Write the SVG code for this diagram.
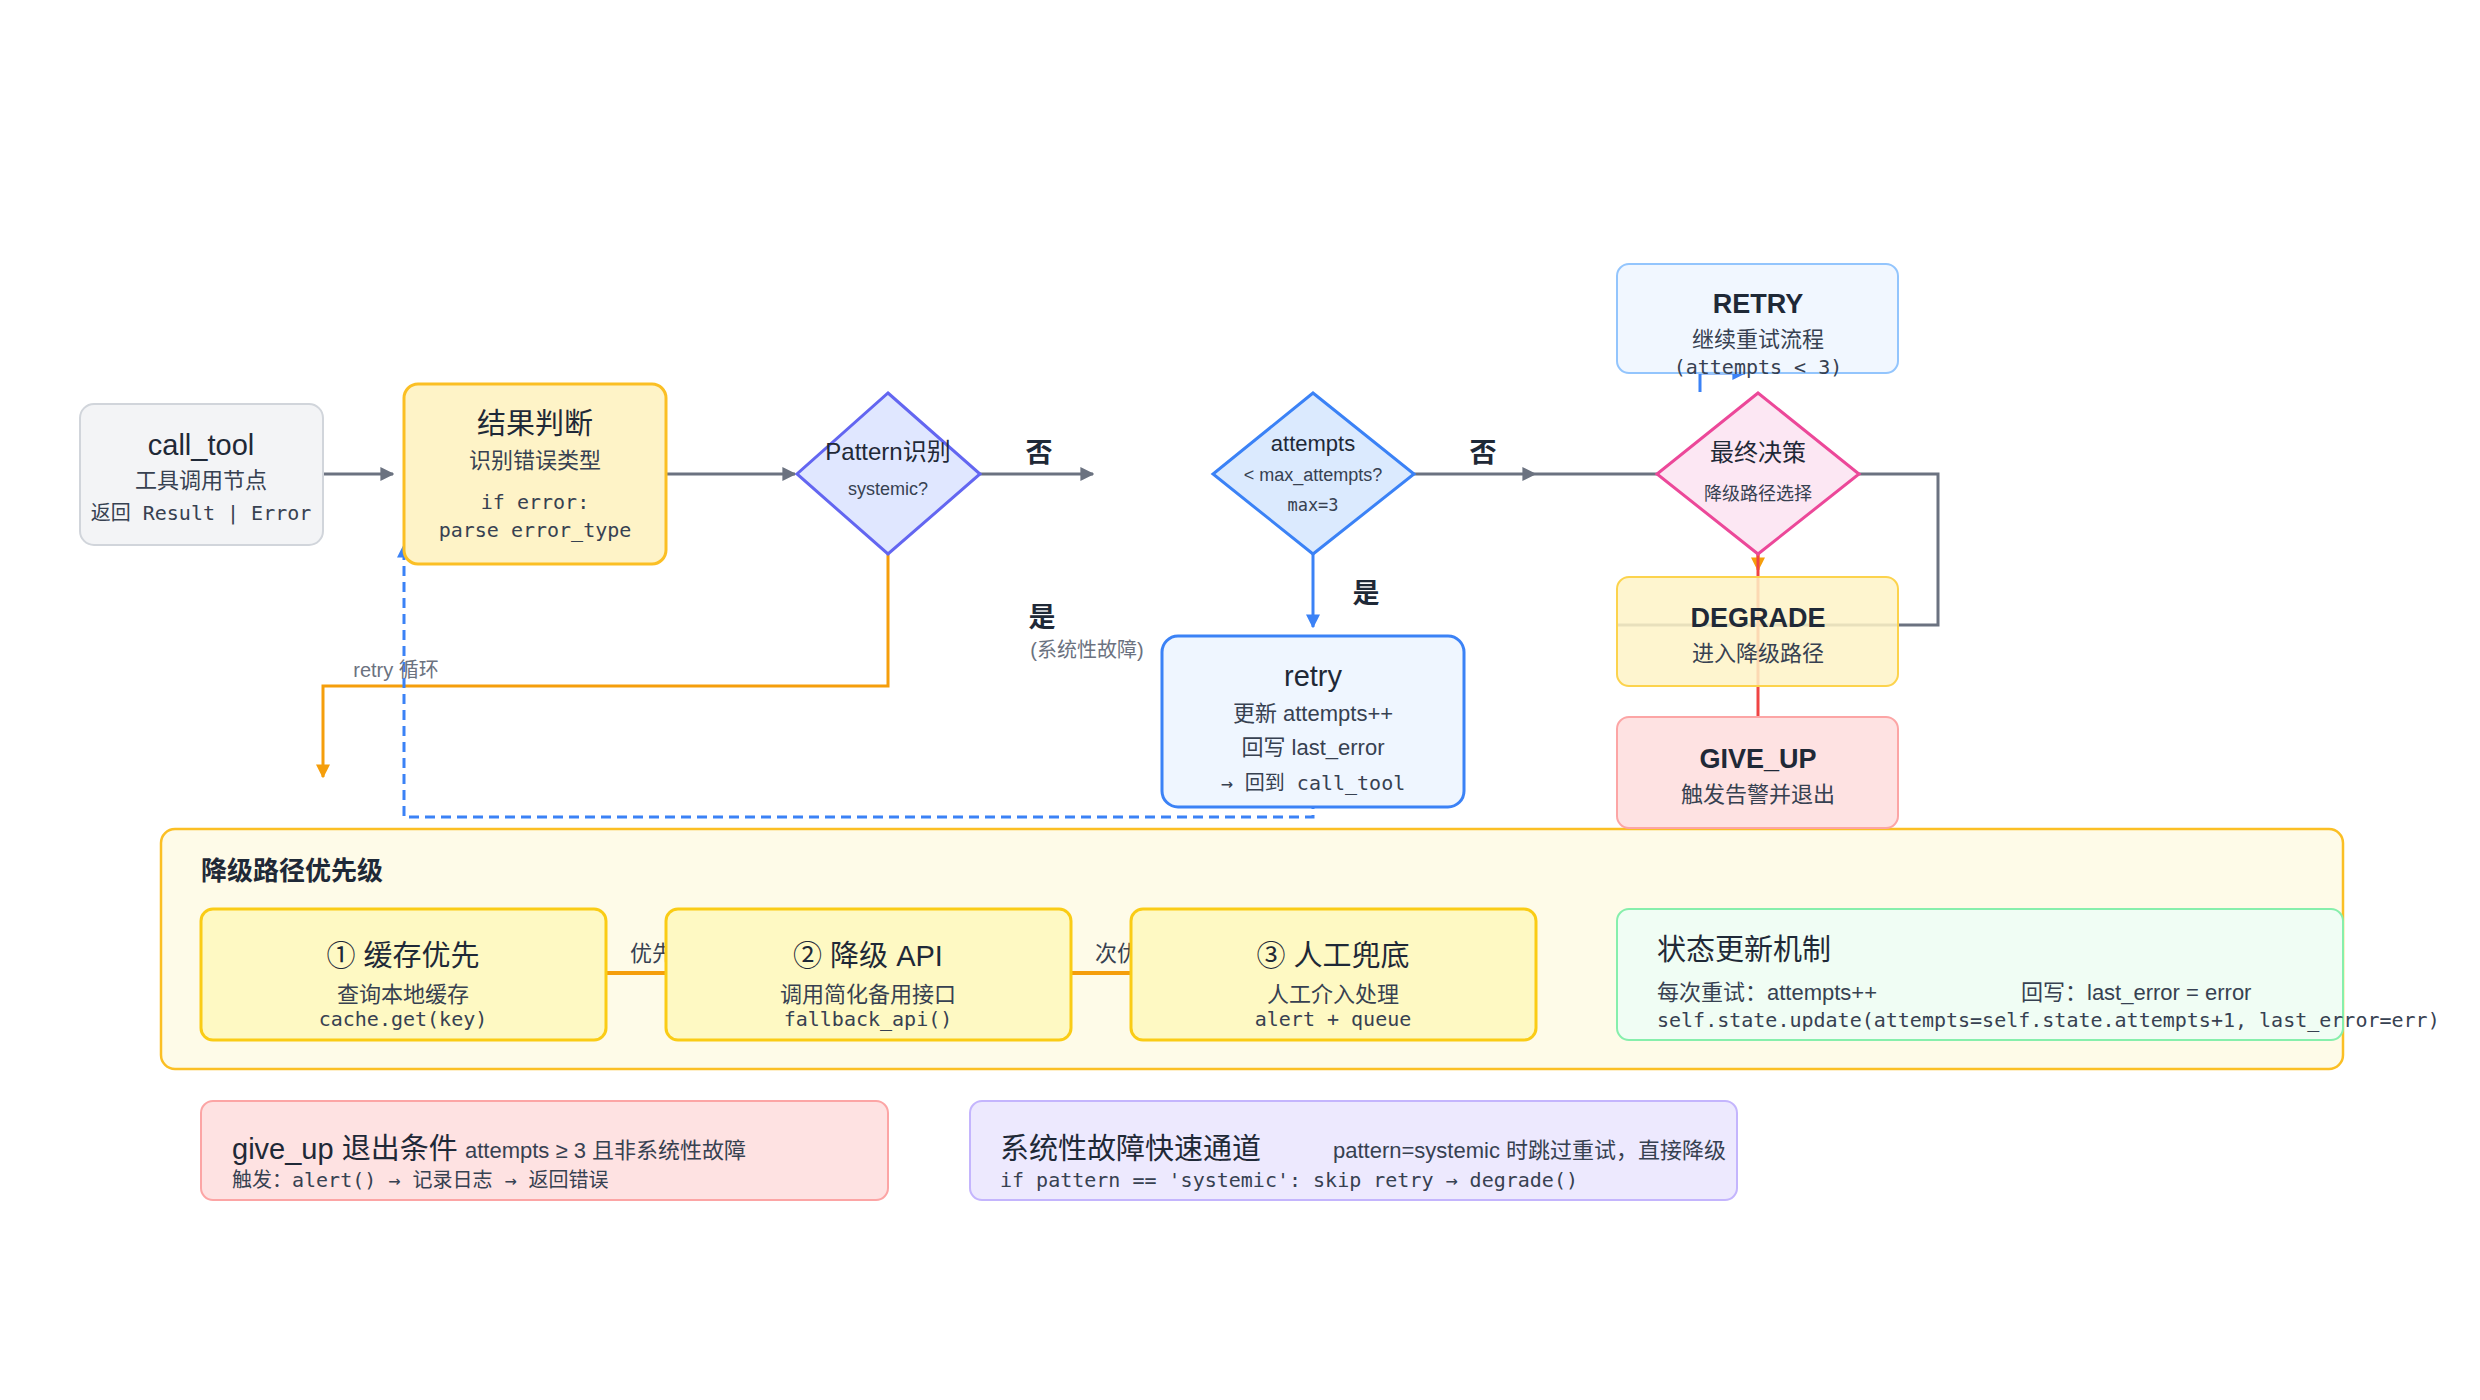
<svg xmlns="http://www.w3.org/2000/svg" width="2480" height="1400" viewBox="0 0 2480 1400">
<style>
text{font-family:"Liberation Sans","Noto Sans CJK SC",sans-serif;fill:#1f2937;text-anchor:middle}
.t{font-size:29px}
.s{font-size:22px;fill:#374151}
.m{font-family:"DejaVu Sans Mono","Liberation Mono","Noto Sans CJK SC",monospace;font-size:20px;fill:#374151}
.b{font-weight:bold;font-size:27px}
.sm{font-size:18px;fill:#374151}
.g{fill:#6b7280;font-size:20px}
.l{text-anchor:start}
.ln{fill:none;stroke-width:3}
</style>
<defs>
<marker id="ag" markerWidth="10" markerHeight="10" refX="9" refY="5" orient="auto" markerUnits="userSpaceOnUse" viewBox="0 0 10 10"><path d="M0,0L10,5L0,10z" fill="#6b7280"/></marker>
<marker id="ab" viewBox="0 0 10 10" refX="9" refY="5" markerWidth="14" markerHeight="14" orient="auto" markerUnits="userSpaceOnUse"><path d="M0,0L10,5L0,10z" fill="#3b82f6"/></marker>
<marker id="ao" viewBox="0 0 10 10" refX="9" refY="5" markerWidth="14" markerHeight="14" orient="auto" markerUnits="userSpaceOnUse"><path d="M0,0L10,5L0,10z" fill="#f59e0b"/></marker>
<marker id="agg" viewBox="0 0 10 10" refX="9" refY="5" markerWidth="14" markerHeight="14" orient="auto" markerUnits="userSpaceOnUse"><path d="M0,0L10,5L0,10z" fill="#6b7280"/></marker>
</defs>
<rect width="2480" height="1400" fill="#fff"/>

<g id="container">
<rect x="161" y="829" width="2182" height="240" rx="14" fill="#fefbe8" stroke="#fbbf24" stroke-width="2.5"/>
<text class="b l" x="201" y="880" style="font-size:26px">降级路径优先级</text>
</g>

<g id="connectors">
<path class="ln" d="M323 474H393" stroke="#6b7280" marker-end="url(#agg)"/>
<path class="ln" d="M666 474H795" stroke="#6b7280" marker-end="url(#agg)"/>
<path class="ln" d="M980 474H1093" stroke="#6b7280" marker-end="url(#agg)"/>
<path class="ln" d="M888 554V686H323V777" stroke="#f59e0b" marker-end="url(#ao)"/>
<path class="ln" d="M1313 783V817H404V545" stroke="#3b82f6" stroke-dasharray="10 6" marker-end="url(#ab)"/>
<path class="ln" d="M1313 554V627" stroke="#3b82f6" marker-end="url(#ab)"/>
<path class="ln" d="M1414 474H1535" stroke="#6b7280" marker-end="url(#agg)"/>
<path class="ln" d="M1535 474H1657" stroke="#6b7280"/>
<path class="ln" d="M1700 392V373H1745" stroke="#3b82f6" marker-end="url(#ab)"/>
<path class="ln" d="M1859 474H1938V625H1617" stroke="#6b7280"/>
<path class="ln" d="M1758 554V570" stroke="#f59e0b" marker-end="url(#ao)"/>
<path class="ln" d="M1758 554V717" stroke="#ef4444"/>
<path d="M606 973H666M1071 973H1131" stroke="#f59e0b" stroke-width="4"/>
<text class="s" x="652" y="961" style="fill:#374151">优先</text>
<text class="s" x="1117" y="961" style="fill:#374151">次优</text>
<text class="b" x="1039" y="462">否</text>
<text class="b" x="1483" y="462">否</text>
<text class="b" x="1042" y="627">是</text>
<text class="g" x="1087" y="657">(系统性故障)</text>
<text class="b" x="1366" y="603">是</text>
<text class="g" x="396" y="677">retry 循环</text>
</g>

<g id="call_tool">
<rect x="80" y="404" width="243" height="141" rx="14" fill="#f3f4f6" stroke="#d1d5db" stroke-width="2"/>
<text class="t" x="201" y="455">call_tool</text>
<text class="s" x="201" y="488">工具调用节点</text>
<text class="m" x="201" y="520">返回 Result | Error</text>
</g>

<g id="judge">
<rect x="404" y="384" width="262" height="180" rx="14" fill="#fef3c7" stroke="#fbbf24" stroke-width="3"/>
<text class="t" x="535" y="434">结果判断</text>
<text class="s" x="535" y="468">识别错误类型</text>
<text class="m" x="535" y="509">if error:</text>
<text class="m" x="535" y="537">parse error_type</text>
</g>

<g id="pattern">
<path d="M888 393L980 474L888 554L797 474Z" fill="#e0e7ff" stroke="#6366f1" stroke-width="3"/>
<text class="s" x="888" y="460" style="font-size:24px;fill:#1f2937">Pattern识别</text>
<text class="sm" x="888" y="495">systemic?</text>
</g>

<g id="attempts">
<path d="M1313 393L1414 474L1313 554L1213 474Z" fill="#dbeafe" stroke="#3b82f6" stroke-width="3"/>
<text class="s" x="1313" y="451" style="fill:#1f2937">attempts</text>
<text class="sm" x="1313" y="481">&lt; max_attempts?</text>
<text class="m" x="1313" y="511" style="font-size:17px">max=3</text>
</g>

<g id="retry">
<rect x="1162" y="636" width="302" height="171" rx="16" fill="#eff6ff" stroke="#3b82f6" stroke-width="3"/>
<text class="t" x="1313" y="686">retry</text>
<text class="s" x="1313" y="721">更新 attempts++</text>
<text class="s" x="1313" y="755">回写 last_error</text>
<text class="m" x="1313" y="790">→ 回到 call_tool</text>
</g>

<g id="final">
<path d="M1758 393L1859 474L1758 554L1657 474Z" fill="#fce7f3" stroke="#ec4899" stroke-width="3"/>
<text class="s" x="1758" y="461" style="font-size:24px;fill:#1f2937">最终决策</text>
<text class="sm" x="1758" y="500">降级路径选择</text>
</g>

<g id="RETRY">
<rect x="1617" y="264" width="281" height="109" rx="12" fill="#eff6ff" fill-opacity="0.9" stroke="#93c5fd" stroke-width="2"/>
<text class="b" x="1758" y="313">RETRY</text>
<text class="s" x="1758" y="347">继续重试流程</text>
<text class="m" x="1758" y="374">(attempts &lt; 3)</text>
</g>

<g id="DEGRADE">
<rect x="1617" y="577" width="281" height="109" rx="12" fill="#fef3c7" fill-opacity="0.85" stroke="#fcd34d" stroke-width="2"/>
<text class="b" x="1758" y="627">DEGRADE</text>
<text class="s" x="1758" y="661">进入降级路径</text>
</g>

<g id="GIVE_UP">
<rect x="1617" y="717" width="281" height="111" rx="12" fill="#fee2e2" stroke="#fca5a5" stroke-width="2"/>
<text class="b" x="1758" y="768">GIVE_UP</text>
<text class="s" x="1758" y="802">触发告警并退出</text>
</g>

<g id="cache">
<rect x="201" y="909" width="405" height="131" rx="12" fill="#fef9c3" stroke="#facc15" stroke-width="3"/>
<text class="t" x="403" y="966">① 缓存优先</text>
<text class="s" x="403" y="1002">查询本地缓存</text>
<text class="m" x="403" y="1026">cache.get(key)</text>
</g>
<g id="api">
<rect x="666" y="909" width="405" height="131" rx="12" fill="#fef9c3" stroke="#facc15" stroke-width="3"/>
<text class="t" x="868" y="966">② 降级 API</text>
<text class="s" x="868" y="1002">调用简化备用接口</text>
<text class="m" x="868" y="1026">fallback_api()</text>
</g>
<g id="human">
<rect x="1131" y="909" width="405" height="131" rx="12" fill="#fef9c3" stroke="#facc15" stroke-width="3"/>
<text class="t" x="1333" y="966">③ 人工兜底</text>
<text class="s" x="1333" y="1002">人工介入处理</text>
<text class="m" x="1333" y="1026">alert + queue</text>
</g>

<g id="state">
<rect x="1617" y="909" width="726" height="131" rx="12" fill="#f0fdf4" stroke="#86efac" stroke-width="2"/>
<text class="t l" x="1657" y="960">状态更新机制</text>
<text class="s l" x="1657" y="1000">每次重试：attempts++</text>
<text class="s l" x="2021" y="1000">回写：last_error = error</text>
<text class="m l" x="1657" y="1027">self.state.update(attempts=self.state.attempts+1, last_error=err)</text>
</g>

<g id="giveup_cond">
<rect x="201" y="1101" width="687" height="99" rx="12" fill="#fee2e2" stroke="#fca5a5" stroke-width="2"/>
<text class="t l" x="232" y="1159">give_up 退出条件</text>
<text class="s l" x="465" y="1158">attempts ≥ 3 且非系统性故障</text>
<text class="m l" x="232" y="1187">触发：alert() → 记录日志 → 返回错误</text>
</g>

<g id="systemic">
<rect x="970" y="1101" width="767" height="99" rx="12" fill="#ede9fe" stroke="#c4b5fd" stroke-width="2"/>
<text class="t l" x="1000" y="1159">系统性故障快速通道</text>
<text class="s l" x="1333" y="1158">pattern=systemic 时跳过重试，直接降级</text>
<text class="m l" x="1000" y="1187">if pattern == 'systemic': skip retry → degrade()</text>
</g>
</svg>
